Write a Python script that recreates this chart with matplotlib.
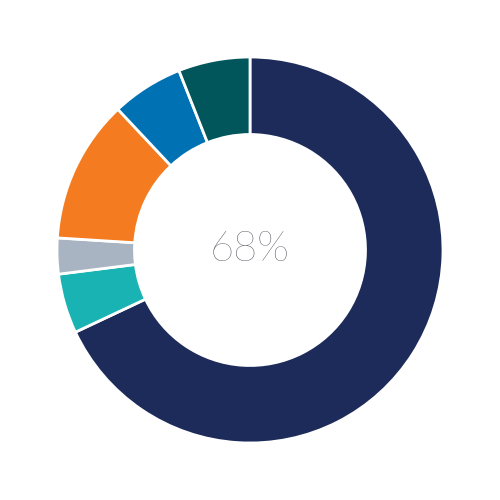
import matplotlib
matplotlib.use("Agg")
import matplotlib.pyplot as plt

labels = ["A", "B", "C", "D", "E", "F"]
values = [68, 5, 3, 12, 6, 6]
colors = ["#1d2b5a", "#1ab3b3", "#a9b4c2", "#f47b20", "#0071b3", "#00565a"]
center_text = "68%"

fig = plt.figure(figsize=(5, 5), dpi=100)
ax = fig.add_axes([0, 0, 1, 1])
ax.pie(values, colors=colors, startangle=90, counterclock=False, radius=0.772,
       wedgeprops=dict(width=0.31, edgecolor="white", linewidth=2))
ax.text(0, 0, center_text, ha="center", va="center", fontsize=30,
        color="#3a3f4a", family="Lato", fontweight="light")
ax.set_xlim(-1, 1); ax.set_ylim(-1, 1)
ax.set_aspect("equal")
ax.axis("off")
fig.savefig("out.png", dpi=100, facecolor="white")
